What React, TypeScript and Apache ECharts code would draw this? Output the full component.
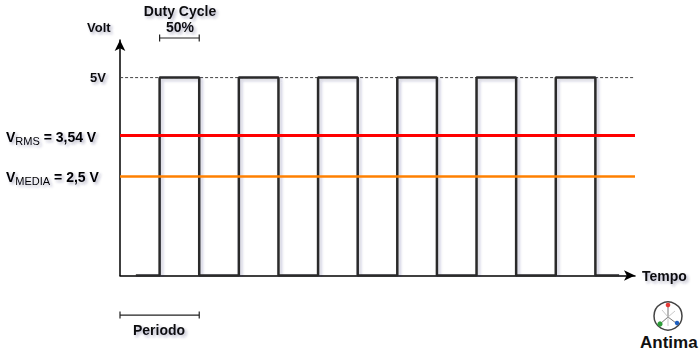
import React, { useEffect, useRef } from "react";
import * as echarts from "echarts";

// ---- data ----
const riseTimes = [1, 3, 5, 7, 9, 11];
const fallTimes = [2, 4, 6, 8, 10, 12];
const highLevel = 5;
const lowLevel = 0;
const waveStart = 0.4;
const waveEnd = 12.6;
const vRms = 3.54;
const vMedia = 2.5;
const xMax = 13;
const yMax = 5.95;
const dutyBracket = [1, 2];
const dutyBracketLevel = 6.0;
const periodBracket = [0, 2];
const periodBracketLevel = -1;

const FONT = "'Liberation Sans', Arial, sans-serif";
const shadow = {
  textShadowColor: "rgba(40,40,90,0.35)",
  textShadowBlur: 3,
  textShadowOffsetX: 2,
  textShadowOffsetY: 2,
};

function buildWave() {
  const pts: number[][] = [[waveStart, lowLevel]];
  riseTimes.forEach((r, i) => {
    const f = fallTimes[i];
    pts.push([r, lowLevel], [r, highLevel], [f, highLevel], [f, lowLevel]);
  });
  pts.push([waveEnd, lowLevel]);
  return pts;
}

export default function App() {
  const ref = useRef<HTMLDivElement>(null);
  useEffect(() => {
    const chart = echarts.init(ref.current!, undefined, { renderer: "svg" });
    const lineShadow = {
      shadowColor: "rgba(40,40,100,0.25)",
      shadowBlur: 3,
      shadowOffsetX: 2,
      shadowOffsetY: 2,
    };
    const bracketSeries = (xs: number[], y: number) => ({
      type: "line",
      clip: false,
      silent: true,
      data: xs.map((x) => [x, y]),
      symbol: "rect",
      symbolSize: [1.2, 7],
      itemStyle: { color: "#222" },
      lineStyle: { color: "#222", width: 1.2 },
      z: 5,
    });
    const richStyle = {
      v: { fontSize: 14, fontWeight: "bold", fontFamily: FONT, color: "#111", lineHeight: 18 },
      s: { fontSize: 11, fontFamily: FONT, color: "#111", padding: [8, 0, 0, 0], lineHeight: 18 },
    };
    chart.setOption({
      animation: false,
      backgroundColor: "#ffffff",
      grid: { left: 120, top: 40, width: 515, height: 235.5 },
      xAxis: {
        type: "value",
        min: 0,
        max: xMax,
        axisLine: {
          show: true,
          symbol: ["none", "arrow"],
          symbolSize: [8, 11],
          lineStyle: { color: "#000", width: 1.5 },
        },
        axisTick: { show: false },
        axisLabel: { show: false },
        splitLine: { show: false },
      },
      yAxis: {
        type: "value",
        min: 0,
        max: yMax,
        axisLine: {
          show: true,
          symbol: ["none", "arrow"],
          symbolSize: [8, 11],
          lineStyle: { color: "#000", width: 1.5 },
        },
        axisTick: { show: false },
        axisLabel: { show: false },
        splitLine: { show: false },
      },
      series: [
        {
          type: "line",
          clip: false,
          silent: true,
          data: [
            [-0.25, highLevel],
            [xMax, highLevel],
          ],
          symbol: "none",
          lineStyle: { color: "#444", width: 1, type: [3, 2] },
          z: 1,
        },
        {
          type: "line",
          silent: true,
          data: buildWave(),
          symbol: "none",
          lineStyle: { color: "#2a2a2a", width: 2.5, ...lineShadow },
          z: 3,
        },
        {
          type: "line",
          silent: true,
          data: [
            [0, vRms],
            [xMax, vRms],
          ],
          symbol: "none",
          lineStyle: { color: "#ff0000", width: 3 },
          z: 4,
        },
        {
          type: "line",
          silent: true,
          data: [
            [0, vMedia],
            [xMax, vMedia],
          ],
          symbol: "none",
          lineStyle: { color: "#ff8000", width: 2.5 },
          z: 4,
        },
        bracketSeries(dutyBracket, dutyBracketLevel),
        bracketSeries(periodBracket, periodBracketLevel),
      ],
      graphic: [
        {
          type: "text",
          left: 87,
          top: 21,
          style: { text: "Volt", font: `bold 13px ${FONT}`, fill: "#111", ...shadow },
        },
        {
          type: "text",
          x: 180,
          y: 3,
          style: {
            text: "Duty Cycle\n50%",
            font: `bold 14px ${FONT}`,
            fill: "#111",
            align: "center",
            lineHeight: 16,
            ...shadow,
          },
        },
        {
          type: "text",
          x: 106,
          y: 77,
          style: {
            text: "5V",
            font: `bold 13px ${FONT}`,
            fill: "#111",
            align: "right",
            verticalAlign: "middle",
            ...shadow,
          },
        },
        {
          type: "text",
          x: 6,
          y: 137,
          style: {
            text: "{v|V}{s|RMS}{v| = 3,54 V}",
            verticalAlign: "middle",
            rich: richStyle,
            ...shadow,
          },
        },
        {
          type: "text",
          x: 6,
          y: 177,
          style: {
            text: "{v|V}{s|MEDIA}{v| = 2,5 V}",
            verticalAlign: "middle",
            rich: richStyle,
            ...shadow,
          },
        },
        {
          type: "text",
          x: 642,
          y: 276,
          style: {
            text: "Tempo",
            font: `bold 14px ${FONT}`,
            fill: "#111",
            verticalAlign: "middle",
            ...shadow,
          },
        },
        {
          type: "text",
          x: 159,
          y: 330,
          style: {
            text: "Periodo",
            font: `bold 14px ${FONT}`,
            fill: "#111",
            align: "center",
            verticalAlign: "middle",
            ...shadow,
          },
        },
        {
          type: "group",
          children: [
            { type: "circle", shape: { cx: 668, cy: 316, r: 14 }, style: { fill: "#fff", stroke: "#444", lineWidth: 1.5 } },
            { type: "line", shape: { x1: 668, y1: 317, x2: 668, y2: 305 }, style: { stroke: "#777", lineWidth: 1 } },
            { type: "line", shape: { x1: 668, y1: 317, x2: 660, y2: 324 }, style: { stroke: "#777", lineWidth: 1 } },
            { type: "line", shape: { x1: 668, y1: 317, x2: 676, y2: 323 }, style: { stroke: "#777", lineWidth: 1 } },
            { type: "line", shape: { x1: 668, y1: 317, x2: 662, y2: 310 }, style: { stroke: "#bbb", lineWidth: 0.8 } },
            { type: "line", shape: { x1: 668, y1: 317, x2: 675, y2: 311 }, style: { stroke: "#bbb", lineWidth: 0.8 } },
            { type: "line", shape: { x1: 668, y1: 317, x2: 668, y2: 326 }, style: { stroke: "#bbb", lineWidth: 0.8 } },
            { type: "circle", shape: { cx: 668, cy: 305, r: 2.3 }, style: { fill: "#e53935" } },
            { type: "circle", shape: { cx: 660, cy: 324, r: 2.6 }, style: { fill: "#2e9e3a" } },
            { type: "circle", shape: { cx: 677, cy: 323, r: 2.2 }, style: { fill: "#1e5fbf" } },
            {
              type: "text",
              x: 640,
              y: 342,
              style: { text: "Antima", font: `bold 17px ${FONT}`, fill: "#111", verticalAlign: "middle" },
            },
          ],
        },
      ],
    });
    return () => chart.dispose();
  }, []);
  return (
    <div
      ref={ref}
      style={{ position: "fixed", left: 0, top: 0, width: 700, height: 352, background: "#fff" }}
    />
  );
}
